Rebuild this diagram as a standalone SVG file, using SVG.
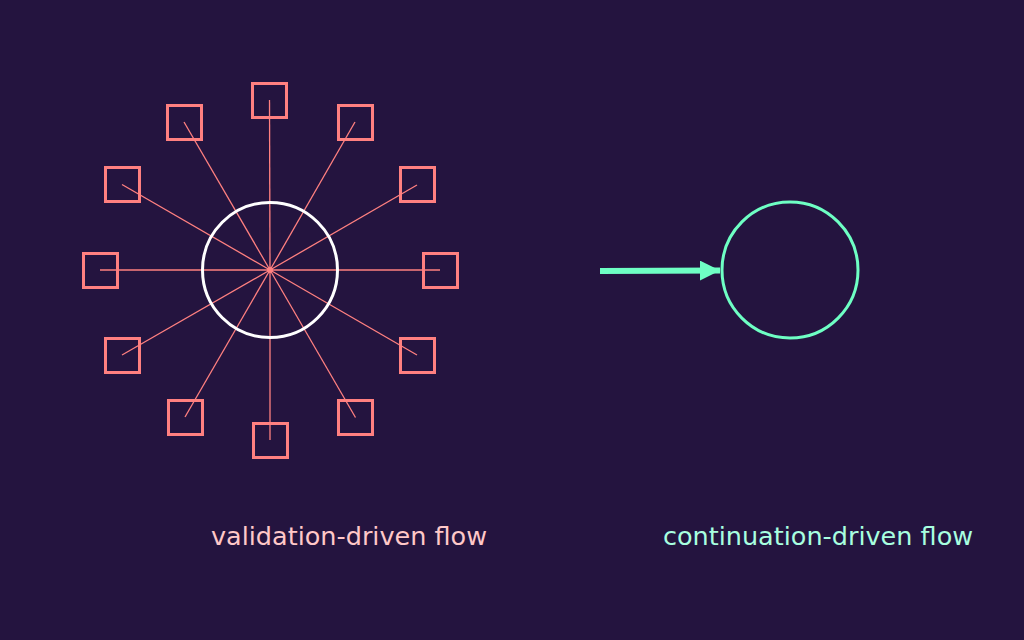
<svg xmlns="http://www.w3.org/2000/svg" width="1024" height="640" viewBox="0 0 1024 640">
<style>
.spoke{stroke:#ff8080;stroke-width:1.3;fill:none}
.sq{fill:none;stroke:#ff8080;stroke-width:3}
.lbl{font-family:"DejaVu Sans",sans-serif;font-size:25.5px;text-anchor:middle}
</style>
<defs>
<marker id="ah" markerWidth="20" markerHeight="20" refX="20" refY="10" orient="auto" markerUnits="userSpaceOnUse">
<path d="M0,0 L20,10 L0,20 Z" fill="#6effc4"/>
</marker>
</defs>
<rect width="1024" height="640" fill="#24143f"/>
<g id="connectors">
<line class="spoke" x1="270" y1="270" x2="269.5" y2="100"/>
<line class="spoke" x1="270" y1="270" x2="355" y2="122"/>
<line class="spoke" x1="270" y1="270" x2="417" y2="185"/>
<line class="spoke" x1="270" y1="270" x2="440" y2="270"/>
<line class="spoke" x1="270" y1="270" x2="417" y2="355"/>
<line class="spoke" x1="270" y1="270" x2="355.5" y2="417.5"/>
<line class="spoke" x1="270" y1="270" x2="270" y2="440"/>
<line class="spoke" x1="270" y1="270" x2="185" y2="417"/>
<line class="spoke" x1="270" y1="270" x2="122" y2="355"/>
<line class="spoke" x1="270" y1="270" x2="100" y2="270"/>
<line class="spoke" x1="270" y1="270" x2="122" y2="184.5"/>
<line class="spoke" x1="270" y1="270" x2="184" y2="122"/>
<line x1="600" y1="271" x2="720" y2="270.5" stroke="#6effc4" stroke-width="6" marker-end="url(#ah)"/>
</g>
<g id="hub">
<circle cx="270" cy="270" r="67.5" fill="none" stroke="#ffffff" stroke-width="3"/>
<circle cx="270" cy="270" r="3" fill="#ff8080"/>
</g>
<g id="n0"><rect class="sq" x="252.5" y="83.5" width="34" height="34"/></g>
<g id="n1"><rect class="sq" x="338.5" y="105.5" width="34" height="34"/></g>
<g id="n2"><rect class="sq" x="400.5" y="167.5" width="34" height="34"/></g>
<g id="n3"><rect class="sq" x="423.5" y="253.5" width="34" height="34"/></g>
<g id="n4"><rect class="sq" x="400.5" y="338.5" width="34" height="34"/></g>
<g id="n5"><rect class="sq" x="338.5" y="400.5" width="34" height="34"/></g>
<g id="n6"><rect class="sq" x="253.5" y="423.5" width="34" height="34"/></g>
<g id="n7"><rect class="sq" x="168.5" y="400.5" width="34" height="34"/></g>
<g id="n8"><rect class="sq" x="105.5" y="338.5" width="34" height="34"/></g>
<g id="n9"><rect class="sq" x="83.5" y="253.5" width="34" height="34"/></g>
<g id="n10"><rect class="sq" x="105.5" y="167.5" width="34" height="34"/></g>
<g id="n11"><rect class="sq" x="167.5" y="105.5" width="34" height="34"/></g>
<g id="target"><circle cx="790" cy="270" r="68" fill="none" stroke="#6effc4" stroke-width="3"/></g>
<text class="lbl" x="349" y="545" fill="#ffc8c8">validation-driven flow</text>
<text class="lbl" x="818" y="545" fill="#a8ffe0">continuation-driven flow</text>
</svg>
